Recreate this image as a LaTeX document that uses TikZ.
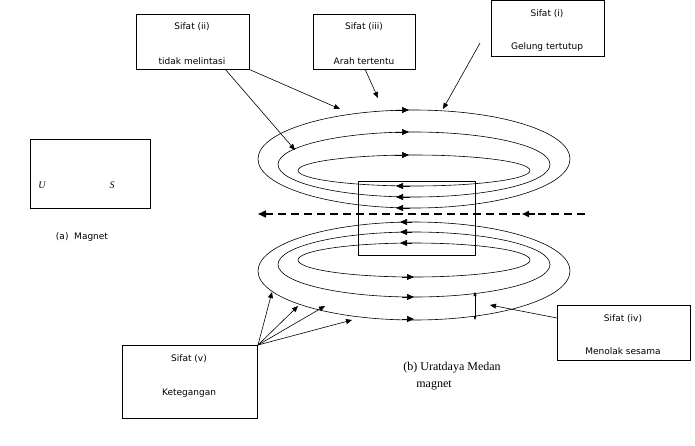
\documentclass[tikz,border=0pt]{standalone}
\usepackage{fontspec}
\setmainfont{Liberation Serif}
\newfontfamily\boxfont{DejaVu Sans}
\usetikzlibrary{arrows.meta}
\begin{document}
\begin{tikzpicture}[x=1pt,y=-1pt,line width=0.6pt,
  bf/.style={font=\boxfont\fontsize{9}{11}\selectfont},
  lbl/.style={draw,rectangle,inner sep=0pt},
  arr/.style={-{Triangle[length=6pt,width=5pt]}},
  tip/.style={-{Triangle[length=7pt,width=6pt]}}]
\useasboundingbox (0,0) rectangle (695,445);
% boxes
\node[lbl,minimum width=113,minimum height=55,anchor=north west] (ii) at (136,14) {};
\node[bf] at (192,27) {Sifat (ii)};
\node[bf] at (192,61) {tidak melintasi};
\node[lbl,minimum width=102,minimum height=55,anchor=north west] (iii) at (313,14) {};
\node[bf] at (364,27) {Sifat (iii)};
\node[bf] at (364,61) {Arah tertentu};
\node[lbl,minimum width=113,minimum height=56,anchor=north west] (i) at (491,0) {};
\node[bf] at (547,14) {Sifat (i)};
\node[bf] at (547,47) {Gelung tertutup};
\node[lbl,minimum width=133,minimum height=55,anchor=north west] (iv) at (557,305) {};
\node[bf] at (623,319) {Sifat (iv)};
\node[bf] at (623,351) {Menolak sesama};
\node[lbl,minimum width=135,minimum height=73,anchor=north west] (v) at (122,345) {};
\node[bf] at (189,359) {Sifat (v)};
\node[bf] at (189,393) {Ketegangan};
% magnet
\node[lbl,minimum width=120,minimum height=69,anchor=north west] (mag) at (30,139) {};
\node[font=\itshape\fontsize{10}{12}\selectfont] (U) at (42,185) {U};
\node[font=\itshape\fontsize{10}{12}\selectfont] (S) at (112,185) {S};
\node[bf] at (82,237) {(a)\ \ Magnet};
% ellipses top
\draw (414,159) ellipse [x radius=156,y radius=49];
\draw (414,164.5) ellipse [x radius=136,y radius=32.5];
\draw (414,170.5) ellipse [x radius=116,y radius=15.5];
% ellipses bottom
\draw (414,271) ellipse [x radius=156,y radius=49];
\draw (414,264.5) ellipse [x radius=136,y radius=32.5];
\draw (414,260) ellipse [x radius=116,y radius=17];
% direction arrows
\foreach \y in {110,132,155} \draw[tip] (395,\y) -- (409,\y);
\foreach \y in {186,197,208} \draw[tip] (410,\y) -- (396,\y);
\foreach \y in {222,232,243} \draw[tip] (412,\y) -- (400,\y);
\foreach \y in {277,297,319} \draw[tip] (402,\y) -- (414,\y);
% box in centre
\draw (358,181) rectangle (475,255);
% dashed axis
\coordinate (dR) at (585,214);
\coordinate (dL) at (258,214);
\draw[dashed,dash pattern=on 8pt off 5pt,line width=1.5pt,-{Triangle[length=8pt,width=7pt]}] (dR) -- (dL);
\draw[tip,line width=1.5pt] (535,214) -- (522,214);
% pointer arrows
\draw[arr] (ii.south east) -- (340,109);
\draw[arr] (225,69) -- (295,150);
\draw[arr] (365,69) -- (378,98);
\draw[arr] (480,43) -- (443,109);
\draw[arr] (iv.west|-0,318) -- (490,305);
\draw[{Triangle[length=4pt,width=3pt]}-{Triangle[length=4pt,width=3pt]}] (475,292) -- (475,320);
\coordinate (vo) at (258,345);
\draw[arr] (vo) -- (272,292);
\draw[arr] (vo) -- (298,306);
\draw[arr] (vo) -- (325,306);
\draw[arr] (vo) -- (352,320);
% caption
\node[font=\fontsize{12}{14}\selectfont] at (452,368) {(b) Uratdaya Medan};
\node[font=\fontsize{12}{14}\selectfont] at (434,385) {magnet};
\end{tikzpicture}
\end{document}
